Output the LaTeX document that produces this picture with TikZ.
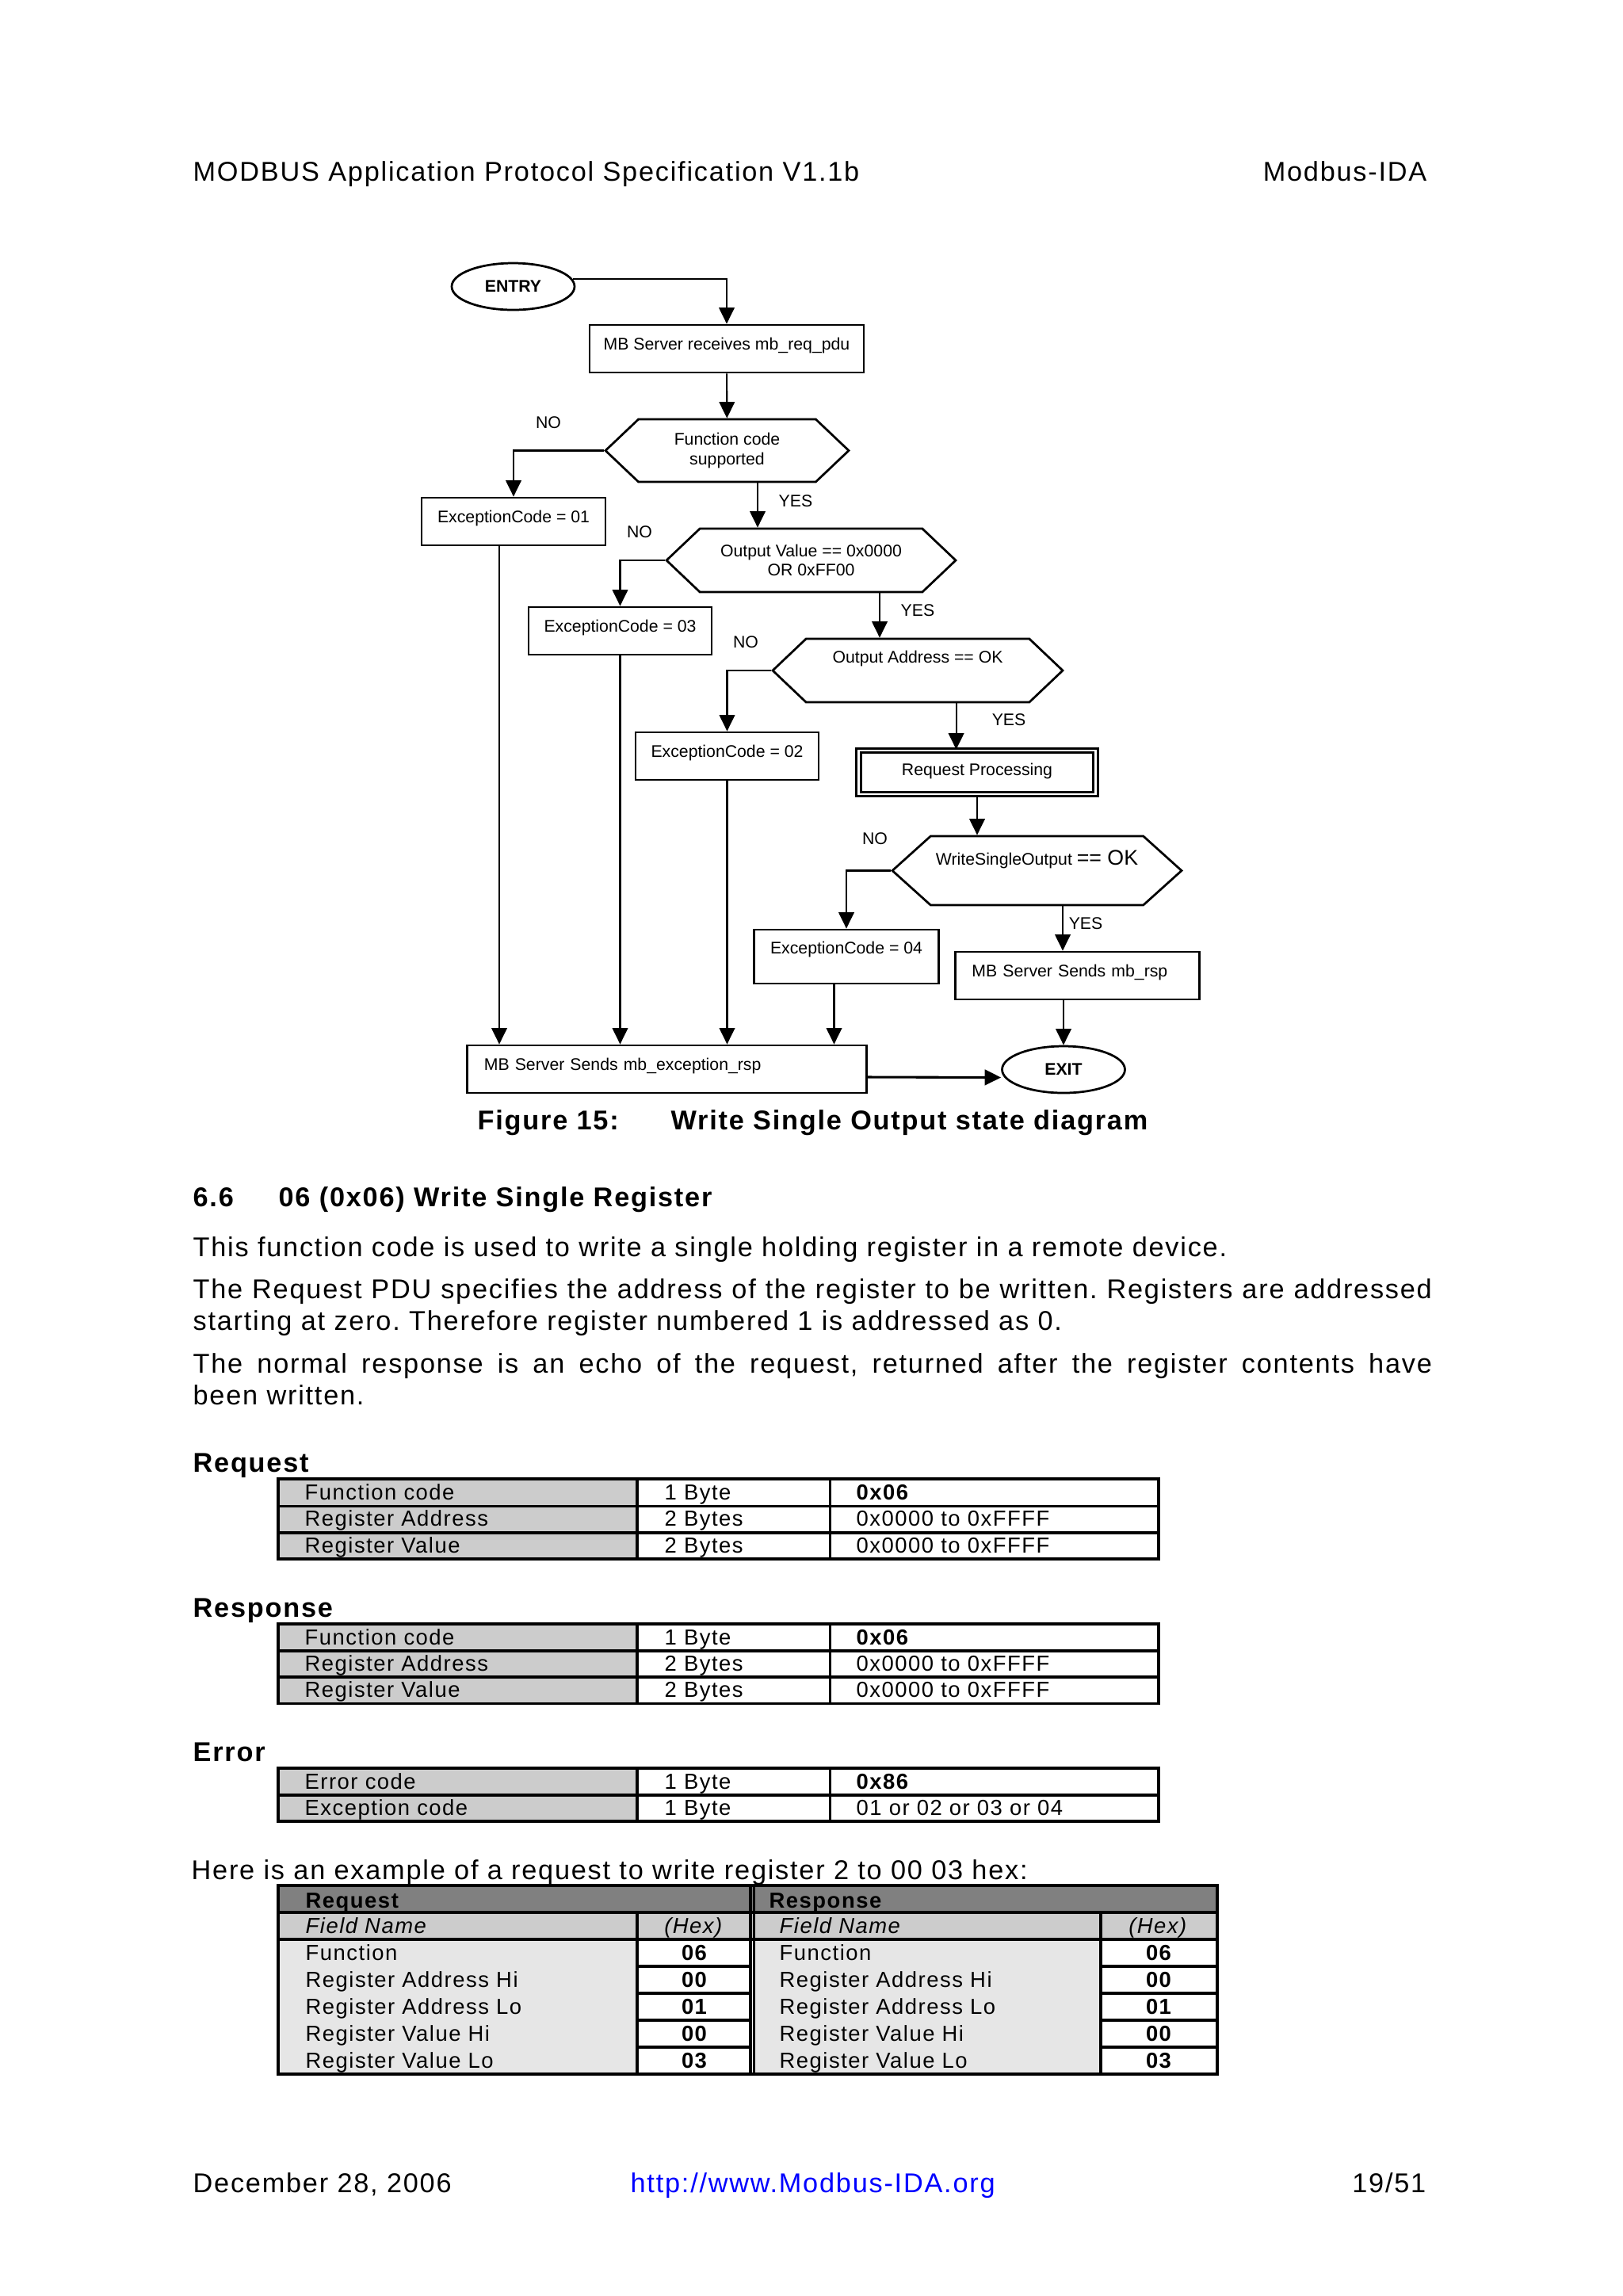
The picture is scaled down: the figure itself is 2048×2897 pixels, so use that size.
\documentclass[tikz,border=0pt]{standalone}
\usepackage{fontspec}
\setmainfont{Liberation Sans}[LetterSpace=5.2]
\newfontfamily\chartfont{Liberation Sans}
\newfontfamily\tabfont{Liberation Sans}[LetterSpace=5.5]
\usetikzlibrary{arrows.meta,positioning,shapes.geometric,shapes.symbols}
\definecolor{cellgray}{RGB}{204,204,204}
\definecolor{headgray}{RGB}{128,128,128}
\definecolor{rowgray}{RGB}{230,230,230}
\definecolor{linkblue}{RGB}{0,0,255}
\def\pxu{0.010254cm}
\hyphenpenalty=10000
\exhyphenpenalty=10000
\frenchspacing
\newcommand{\chartsize}{\chartfont\fontsize{6.2}{7.2}\selectfont}
\newcommand{\bodysize}{\fontsize{10}{11.67}\selectfont}
\newcommand{\tabsize}{\tabfont\fontsize{8}{9.6}\selectfont}

\begin{document}
\begin{tikzpicture}[
  x=0.010254cm, y=-0.010252cm,
  box/.style 2 args={rectangle, draw, line width=0.8pt, inner sep=0pt,
              font=\chartsize, minimum width=#1*\pxu, minimum height=#2*\pxu,
              text height=3.9pt, text depth=3pt},
  hexa/.style 2 args={signal, signal to=east and west, signal pointer angle=87,
              draw, line width=0.8pt, inner sep=0pt, font=\chartsize, align=center,
              minimum width=#1*\pxu, minimum height=#2*\pxu},
  term/.style={ellipse, draw, line width=0.8pt, inner sep=0pt,
               font=\chartfont\bfseries\fontsize{6.2}{7.2}\selectfont,
               minimum width=155*\pxu, minimum height=59*\pxu},
  lbl/.style={font=\chartsize, inner sep=0pt, anchor=base},
  arr/.style={draw, line width=0.6pt, -{Triangle[length=2.1mm,width=2mm]}},
  txt/.style={font=\bodysize, inner sep=0pt, anchor=base west},
  tbl/.style={line width=0.9pt},
  cell/.style={font=\tabsize, inner sep=0pt, anchor=base west}
]
\fill[white] (0,0) rectangle (2048,2897);
\useasboundingbox (0,0) rectangle (2048,2897);

% page header
\node[txt] (head) at (243,228) {MODBUS Application Protocol Specification V1.1b};
\node[txt, anchor=base east] (org) at (1801,228) {Modbus-IDA};

% state diagram
\node[term] (entry) at (647.5,361.5) {ENTRY};
\node[box={346}{60}] (recv) at (917,440) {MB Server receives mb\_req\_pdu};
\node[hexa={307}{79}] (fcode) at (917.5,568.5) {Function code\\supported};
\node[box={232}{60}] (exc1) at (648,658) {ExceptionCode = 01};
\node[hexa={365}{80}] (oval) at (1023.5,707) {Output Value == 0x0000\\OR 0xFF00};
\node[box={231}{60}] (exc3) at (782.5,796) {ExceptionCode = 03};
\node[hexa={366}{80}] (oaddr) at (1158,846) {Output Address == OK\\[3pt]\mbox{}};
\node[box={231}{60}] (exc2) at (917.5,954) {ExceptionCode = 02};
\node[box={299}{55}, double, double distance=0.8pt, text height=4.6pt,
      text depth=2pt] (proc) at (1233,974.5) {Request Processing};
\node[hexa={365}{87}, signal pointer angle=84] (wso) at (1308.5,1098.5)
  {WriteSingleOutput {\fontsize{7.8}{7.2}\selectfont == OK}\\[2.5pt]\mbox{}};
\node[box={232.5}{68}, text height=2pt, text depth=4.3pt] (exc4) at (1068,1207)
  {ExceptionCode = 04};
\node[box={308}{60}, text width=2.73cm, inner xsep=21*\pxu, align=left] (rsp)
  at (1359.6,1231) {MB Server Sends mb\_rsp};
\node[term] (exit) at (1342,1349.5) {EXIT};
\node[box={503}{60}, text width=4.73cm, inner xsep=21*\pxu, align=left] (excrsp)
  at (841.5,1349) {MB Server Sends mb\_exception\_rsp};

\node[lbl] (no1) at (692,540) {NO};
\node[lbl] (no2) at (807,678) {NO};
\node[lbl] (no3) at (941,817) {NO};
\node[lbl] (no4) at (1104,1065) {NO};
\node[lbl] (yes1) at (1004,639) {YES};
\node[lbl] (yes2) at (1158,777) {YES};
\node[lbl] (yes3) at (1273,915) {YES};
\node[lbl] (yes4) at (1370,1172) {YES};

\coordinate (y1) at ([xshift=38.5*\pxu]fcode.south);
\coordinate (y2) at ([xshift=86.5*\pxu]oval.south);
\coordinate (y3) at ([xshift=48.6*\pxu]oaddr.south);
\coordinate (y4) at ([xshift=32.5*\pxu]wso.south);
\coordinate (d1) at ([xshift=-18*\pxu]exc1.south);
\coordinate (d4) at ([xshift=-15.5*\pxu]exc4.south);

\draw[arr] (entry.7) -| (recv.north);
\draw[arr] (recv) -- (fcode);
\draw[arr] (fcode.west) -| (exc1.north);
\draw[arr] (y1) -- (y1 |- oval.north);
\draw[arr] (oval.west) -| (exc3.north);
\draw[arr] (y2) -- (y2 |- oaddr.north);
\draw[arr] (oaddr.west) -| (exc2.north);
\draw[arr] (y3) -- (y3 |- proc.north);
\draw[arr] (proc.south) -- (proc.south |- wso.north);
\draw[arr] (wso.west) -| (exc4.north);
\draw[arr] (y4) -- (y4 |- rsp.north);
\draw[arr] (exit.north |- rsp.south) -- (exit.north);
\draw[arr] (d1) -- (d1 |- excrsp.north);
\draw[arr] (exc3.south) -- (exc3.south |- excrsp.north);
\draw[arr] (exc2.south) -- (exc2.south |- excrsp.north);
\draw[arr] (d4) -- (d4 |- excrsp.north);
\draw[arr, line width=0.9pt] ([yshift=-10*\pxu]excrsp.east) -- ([yshift=-10*\pxu]exit.west);

\node[txt, font=\bodysize\bfseries] (fig) at (602,1425) {Figure 15:};
\node[txt, font=\bodysize\bfseries] (figt) at (846,1425) {Write Single Output state diagram};

% section text
\node[txt, font=\bodysize\bfseries] (secn) at (243,1522) {6.6};
\node[txt, font=\bodysize\bfseries] (sect) at (351,1522) {06 (0x06) Write Single Register};
\node[txt] (par1) at (243,1585)
  {This function code is used to write a single holding register in a remote device.};
\node[txt, text width=16.03cm, align=justify] (par2) at (243,1638)
  {The Request PDU specifies the address of the register to be written. Registers are
   addressed\linebreak starting at zero. Therefore register numbered 1 is addressed as 0.};
\node[txt, text width=16.03cm, align=justify] (par3) at (243,1732)
  {The normal response is an echo of the request, returned after the register contents
   have\linebreak been written.};

% request
\node[txt, font=\bodysize\bfseries] (hreq) at (243,1857) {Request};
\fill[cellgray] (351,1866) rectangle (804,1967);
\draw[tbl] (351,1866) rectangle (1462,1967)
  (351,1900.7) -- (1462,1900.7) (351,1934) -- (1462,1934)
  (804,1866) -- (804,1967) (1047.5,1866) -- (1047.5,1967);
\foreach \n/\a/\b/\c [count=\i from 0] in {fc/Function code/1 Byte/\textbf{0x06},
    ra/Register Address/2 Bytes/0x0000 to 0xFFFF,
    rv/Register Value/2 Bytes/0x0000 to 0xFFFF} {
  \node[cell] (req-\n-a) at (384,{1892+33.6*\i}) {\a};
  \node[cell] (req-\n-b) at (838,{1892+33.6*\i}) {\b};
  \node[cell] (req-\n-c) at (1080,{1892+33.6*\i}) {\c};
}

% response
\node[txt, font=\bodysize\bfseries] (hrsp) at (243,2040) {Response};
\fill[cellgray] (351,2049) rectangle (804,2149.3);
\draw[tbl] (351,2049) rectangle (1462,2149.3)
  (351,2083) -- (1462,2083) (351,2116) -- (1462,2116)
  (804,2049) -- (804,2149.3) (1047.5,2049) -- (1047.5,2149.3);
\foreach \n/\a/\b/\c [count=\i from 0] in {fc/Function code/1 Byte/\textbf{0x06},
    ra/Register Address/2 Bytes/0x0000 to 0xFFFF,
    rv/Register Value/2 Bytes/0x0000 to 0xFFFF} {
  \node[cell] (rsp-\n-a) at (384,{2075+33.4*\i}) {\a};
  \node[cell] (rsp-\n-b) at (838,{2075+33.4*\i}) {\b};
  \node[cell] (rsp-\n-c) at (1080,{2075+33.4*\i}) {\c};
}

% error
\node[txt, font=\bodysize\bfseries] (herr) at (243,2222) {Error};
\fill[cellgray] (351,2231) rectangle (804,2298);
\draw[tbl] (351,2231) rectangle (1462,2298)
  (351,2265) -- (1462,2265)
  (804,2231) -- (804,2298) (1047.5,2231) -- (1047.5,2298);
\foreach \n/\a/\b/\c [count=\i from 0] in {ec/Error code/1 Byte/\textbf{0x86},
    xc/Exception code/1 Byte/01 or 02 or 03 or 04} {
  \node[cell] (err-\n-a) at (384,{2257+33.5*\i}) {\a};
  \node[cell] (err-\n-b) at (838,{2257+33.5*\i}) {\b};
  \node[cell] (err-\n-c) at (1080,{2257+33.5*\i}) {\c};
}

% example
\node[txt] (exline) at (241,2371) {Here is an example of a request to write register 2 to 00 03 hex:};
\fill[headgray] (351,2379) rectangle (1536,2413);
\fill[cellgray] (351,2413) rectangle (1536,2447);
\fill[rowgray] (351,2447) rectangle (804,2617);
\fill[rowgray] (951.5,2447) rectangle (1389,2617);
\draw[tbl] (351,2379) rectangle (1536,2617)
  (351,2413) -- (1536,2413) (351,2447) -- (1536,2447)
  (804,2413) -- (804,2617) (1389,2413) -- (1389,2617)
  (947,2379) -- (947,2617) (951.5,2379) -- (951.5,2617);
\foreach \y in {2481,2515,2549,2583}
  \draw[tbl] (804,\y) -- (947,\y) (1389,\y) -- (1536,\y);
\node[cell, font=\tabsize\bfseries] (ex-req) at (385,2407) {Request};
\node[cell, font=\tabsize\bfseries] (ex-rsp) at (970,2407) {Response};
\node[cell, font=\tabsize\itshape] (ex-fn1) at (385,2439) {Field Name};
\node[cell, font=\tabsize\itshape, anchor=base east] (ex-hx1) at (912,2439) {(Hex)};
\node[cell, font=\tabsize\itshape] (ex-fn2) at (983,2439) {Field Name};
\node[cell, font=\tabsize\itshape, anchor=base east] (ex-hx2) at (1498,2439) {(Hex)};
\foreach \f/\v [count=\i from 0] in {Function/06, Register Address Hi/00,
    Register Address Lo/01, Register Value Hi/00, Register Value Lo/03} {
  \node[cell] (exq-\i) at (385,{2473+34*\i}) {\f};
  \node[cell, anchor=base, font=\tabsize\bfseries] (exqv-\i) at (876,{2473+34*\i}) {\v};
  \node[cell] (exr-\i) at (983,{2473+34*\i}) {\f};
  \node[cell, anchor=base, font=\tabsize\bfseries] (exrv-\i) at (1462,{2473+34*\i}) {\v};
}

% page footer
\node[txt] (date) at (243,2766) {December 28, 2006};
\node[txt, text=linkblue] (url) at (795,2766) {http://www.Modbus-IDA.org};
\node[txt, anchor=base east] (page) at (1800,2766) {19/51};
\end{tikzpicture}
\end{document}
